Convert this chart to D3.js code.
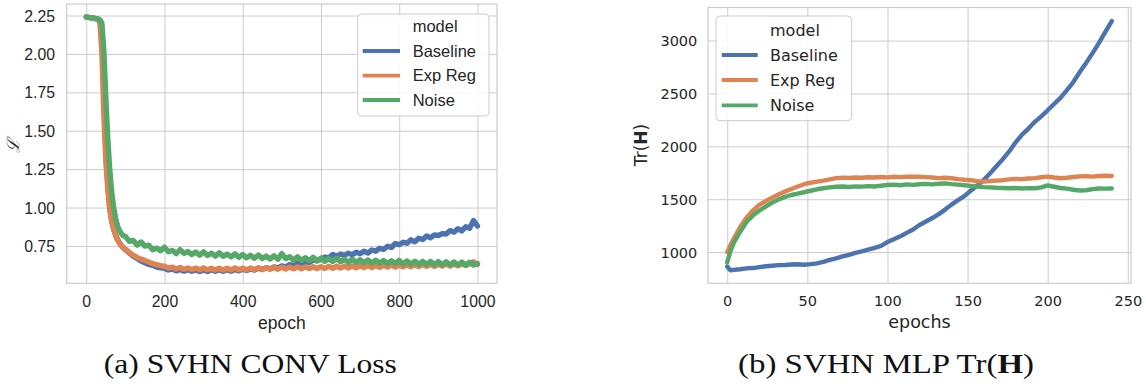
<!DOCTYPE html>
<html><head><meta charset="utf-8">
<script src="https://cdn.jsdelivr.net/npm/d3@7"></script>
<style>body{margin:0;background:#fff}svg{display:block}</style>
</head><body>
<svg id="chart" width="1146" height="386"></svg>
<script>
// ---------- data ----------
const seriesNames = ["Baseline", "Exp Reg", "Noise"];
const seriesColors = ["#4c72b0", "#dd8452", "#55a868"];

// (a) SVHN CONV loss
const epochsA = [0,10,20,30,35,40,45,50,55,60,65,70,75,80,85,90,95,100,
 110,120,130,140,150,160,170,180,190,200,210,220,230,240,250,260,270,280,290,300,
 310,320,330,340,350,360,370,380,390,400,410,420,430,440,450,460,470,480,490,500,
 510,520,530,540,550,560,570,580,590,600,610,620,630,640,650,660,670,680,690,700,
 710,720,730,740,750,760,770,780,790,800,810,820,830,840,850,860,870,880,890,900,
 910,920,930,940,950,960,970,980,990,1000];
const lossBaseline = [2.24,2.236,2.232,2.226,2.215,2.15,1.80,1.40,1.15,1.00,0.915,0.862,0.822,0.792,0.770,0.752,0.738,0.726,
 0.705,0.684,0.668,0.652,0.641,0.630,0.624,0.612,0.608,0.604,0.594,0.600,0.588,0.597,0.586,0.595,0.585,0.594,0.584,0.594,
 0.584,0.595,0.585,0.595,0.585,0.596,0.586,0.597,0.588,0.599,0.590,0.602,0.593,0.605,0.597,0.609,0.601,0.614,0.606,0.620,
 0.614,0.628,0.622,0.637,0.632,0.647,0.643,0.658,0.654,0.664,0.678,0.672,0.695,0.683,0.698,0.688,0.703,0.693,0.709,0.699,
 0.716,0.704,0.724,0.716,0.735,0.728,0.748,0.740,0.766,0.758,0.774,0.768,0.790,0.777,0.800,0.792,0.815,0.804,0.822,0.818,
 0.830,0.828,0.850,0.840,0.862,0.848,0.875,0.866,0.915,0.880];
const lossExpReg = [2.24,2.236,2.232,2.226,2.20,2.00,1.60,1.30,1.12,0.99,0.91,0.858,0.82,0.79,0.768,0.75,0.738,0.728,
 0.708,0.690,0.676,0.664,0.656,0.645,0.636,0.628,0.622,0.618,0.606,0.612,0.600,0.610,0.598,0.607,0.596,0.606,0.595,0.608,
 0.595,0.605,0.594,0.606,0.593,0.605,0.594,0.607,0.595,0.605,0.594,0.607,0.596,0.608,0.597,0.609,0.598,0.610,0.599,0.611,
 0.600,0.612,0.601,0.613,0.602,0.614,0.603,0.615,0.603,0.615,0.604,0.617,0.605,0.618,0.606,0.619,0.607,0.620,0.608,0.621,
 0.609,0.622,0.610,0.623,0.611,0.624,0.612,0.625,0.613,0.626,0.614,0.627,0.615,0.628,0.616,0.629,0.617,0.630,0.618,0.631,
 0.619,0.632,0.620,0.632,0.621,0.633,0.622,0.634,0.648,0.630];
const lossNoise = [2.24,2.236,2.232,2.228,2.222,2.20,2.02,1.72,1.45,1.25,1.10,1.00,0.93,0.88,0.85,0.83,0.815,0.812,
 0.780,0.786,0.756,0.776,0.749,0.755,0.726,0.736,0.719,0.742,0.712,0.721,0.700,0.726,0.702,0.714,0.694,0.710,0.690,0.712,
 0.688,0.703,0.684,0.706,0.683,0.697,0.680,0.699,0.676,0.694,0.673,0.689,0.670,0.691,0.668,0.684,0.665,0.686,0.664,0.700,
 0.668,0.680,0.658,0.679,0.657,0.674,0.654,0.676,0.653,0.671,0.650,0.668,0.649,0.670,0.648,0.663,0.644,0.664,0.642,0.660,
 0.641,0.658,0.639,0.657,0.638,0.655,0.636,0.654,0.635,0.656,0.633,0.652,0.632,0.651,0.631,0.650,0.630,0.649,0.629,0.648,
 0.628,0.647,0.628,0.646,0.627,0.645,0.626,0.644,0.626,0.636];
const lossTicksX = [0,200,400,600,800,1000];
const lossTicksY = [0.75,1.00,1.25,1.50,1.75,2.00,2.25];

// (b) SVHN MLP Tr(H)
const epochsB = [0,2,4,8,12,16,20,24,28,32,36,40,44,48,52,56,60,64,68,72,76,80,84,88,92,96,100,
 104,108,112,116,120,124,128,132,136,140,144,148,152,156,160,164,168,172,176,180,184,188,192,196,200,
 204,208,212,216,220,224,228,232,236,240];
const trBaseline = [864,828,832,838,846,849,858,866,871,877,878,883,885,881,886,893,908,926,941,959,974,993,1007,1023,1040,1059,1095,
 1121,1149,1182,1214,1256,1289,1322,1359,1402,1449,1491,1529,1581,1629,1682,1744,1811,1879,1952,2038,2111,2168,2232,2284,2341,
 2401,2459,2532,2608,2702,2789,2882,2978,3082,3185];
const trExpReg = [1000,1065,1125,1235,1325,1395,1446,1482,1515,1545,1572,1597,1620,1642,1656,1666,1676,1688,1700,1704,1702,1706,1703,1708,1705,1710,1707,
 1712,1709,1714,1712,1713,1709,1706,1700,1703,1698,1690,1684,1680,1670,1668,1672,1676,1680,1688,1692,1690,1696,1700,1708,1714,
 1705,1698,1703,1710,1716,1718,1714,1720,1722,1720];
const trNoise = [902,1010,1085,1190,1285,1345,1393,1430,1468,1498,1522,1540,1553,1566,1580,1594,1604,1612,1618,1620,1616,1622,1619,1624,1620,1628,1634,
 1638,1632,1640,1636,1641,1645,1640,1647,1650,1643,1638,1632,1626,1620,1614,1612,1608,1606,1604,1606,1602,1605,1604,1612,1630,
 1618,1606,1600,1590,1582,1585,1596,1602,1600,1602];
const trTicksX = [0,50,100,150,200,250];
const trTicksY = [1000,1500,2000,2500,3000];

// ---------- drawing ----------
const svg = d3.select("#chart");
const GRID = "#cccccc", INK = "#262626";

function panel(o) {
  const x = d3.scaleLinear().domain(o.xDomain).range([o.left, o.right]);
  const y = d3.scaleLinear().domain(o.yDomain).range([o.bottom, o.top]);
  const g = svg.append("g");

  const ax = g.append("g").attr("transform", `translate(0,${o.bottom})`)
    .call(d3.axisBottom(x).tickValues(o.xTicks).tickSize(-(o.bottom - o.top)).tickSizeOuter(0).tickFormat(o.xFmt));
  const ay = g.append("g").attr("transform", `translate(${o.left},0)`)
    .call(d3.axisLeft(y).tickValues(o.yTicks).tickSize(-(o.right - o.left)).tickSizeOuter(0).tickPadding(o.yPad).tickFormat(o.yFmt));
  [ax, ay].forEach(a => {
    a.select(".domain").remove();
    a.selectAll(".tick line").attr("stroke", GRID).attr("stroke-width", 1);
    a.selectAll(".tick text").attr("fill", INK).style("font-family", o.font).style("font-size", o.tickSize + "px");
  });
  ax.selectAll(".tick text").attr("y", o.xLabelY - o.bottom).attr("dy", "0.35em");
  ay.selectAll(".tick text").attr("dy", "0.35em");

  g.append("rect").attr("x", o.left).attr("y", o.top)
    .attr("width", o.right - o.left).attr("height", o.bottom - o.top)
    .attr("fill", "none").attr("stroke", GRID).attr("stroke-width", 1.2);

  const line = d3.line().x((d, i) => x(o.xs[i])).y(d => y(d));
  o.series.forEach((s, k) => {
    g.append("path").datum(s).attr("d", line)
      .attr("fill", "none").attr("stroke", seriesColors[k])
      .attr("stroke-width", o.lw).attr("stroke-linejoin", "round").attr("stroke-linecap", "round");
  });

  g.append("text").attr("x", (o.left + o.right) / 2).attr("y", o.xTitleY).attr("dy", "0.35em")
    .attr("text-anchor", "middle").attr("fill", INK)
    .style("font-family", o.font).style("font-size", o.labelSize + "px").text(o.xTitle);

  const L = o.legend;
  g.append("rect").attr("x", L.x0).attr("y", L.y0).attr("width", L.x1 - L.x0).attr("height", L.y1 - L.y0)
    .attr("rx", 4).attr("fill", "#ffffff").attr("fill-opacity", 0.85).attr("stroke", GRID).attr("stroke-width", 1);
  g.append("text").attr("x", L.tx).attr("y", L.titleY).attr("dy", "0.35em").attr("fill", INK)
    .style("font-family", o.font).style("font-size", L.size + "px").text("model");
  seriesNames.forEach((n, k) => {
    g.append("line").attr("x1", L.lx0).attr("x2", L.lx1).attr("y1", L.rows[k]).attr("y2", L.rows[k])
      .attr("stroke", seriesColors[k]).attr("stroke-width", L.lw);
    g.append("text").attr("x", L.tx).attr("y", L.rows[k]).attr("dy", "0.35em").attr("fill", INK)
      .style("font-family", o.font).style("font-size", L.size + "px").text(n);
  });
  return g;
}

panel({
  left: 66.7, right: 497, top: 4, bottom: 283.3,
  xDomain: [-50, 1050], yDomain: [0.507, 2.325],
  xTicks: lossTicksX, yTicks: lossTicksY,
  xFmt: d3.format("d"), yFmt: d3.format(".2f"),
  xs: epochsA, series: [lossBaseline, lossExpReg, lossNoise], lw: 5.4,
  font: "'Liberation Sans', Arial, sans-serif", tickSize: 15.8, labelSize: 17.5, yPad: 11.7,
  xLabelY: 301.7, xTitle: "epoch", xTitleY: 322.7,
  legend: {x0: 357.7, x1: 489, y0: 14, y1: 116, tx: 412.7, titleY: 26.7, rows: [51, 75.7, 100],
           lx0: 362.7, lx1: 400, lw: 3.8, size: 16.5}
});

panel({
  left: 708, right: 1131, top: 7.5, bottom: 283.3,
  xDomain: [-12, 252], yDomain: [705, 3313],
  xTicks: trTicksX, yTicks: trTicksY,
  xFmt: d3.format("d"), yFmt: d3.format("d"),
  xs: epochsB, series: [trBaseline, trExpReg, trNoise], lw: 4.4,
  font: "'DejaVu Sans', sans-serif", tickSize: 14.5, labelSize: 17.5, yPad: 10.7,
  xLabelY: 300.7, xTitle: "epochs", xTitleY: 321.7,
  legend: {x0: 716, x1: 851.7, y0: 16, y1: 120.7, tx: 770, titleY: 30.7, rows: [55, 80, 105.3],
           lx0: 721.7, lx1: 757.7, lw: 3.8, size: 16}
});

svg.append("text").attr("transform", "translate(13,146) rotate(-90)").attr("text-anchor", "middle").attr("dy", "0.35em")
  .attr("fill", INK).style("font-family", "'DejaVu Serif', serif").style("font-style", "italic").style("font-size", "17px").text("ℒ");
const trLab = svg.append("text").attr("transform", "translate(641,145) rotate(-90)").attr("text-anchor", "middle").attr("dy", "0.35em")
  .attr("fill", INK).style("font-family", "'DejaVu Sans', sans-serif").style("font-size", "17px");
trLab.append("tspan").text("Tr(");
trLab.append("tspan").attr("font-weight", "bold").text("H");
trLab.append("tspan").text(")");

svg.append("text").attr("x", 250.3).attr("y", 373).attr("text-anchor", "middle")
  .attr("textLength", 293).attr("lengthAdjust", "spacingAndGlyphs")
  .attr("fill", "#111").style("font-family", "'Liberation Serif', 'Times New Roman', serif").style("font-size", "28px")
  .text("(a) SVHN CONV Loss");
const capB = svg.append("text").attr("x", 886).attr("y", 373).attr("text-anchor", "middle")
  .attr("textLength", 296).attr("lengthAdjust", "spacingAndGlyphs")
  .attr("fill", "#111").style("font-family", "'Liberation Serif', 'Times New Roman', serif").style("font-size", "28px");
capB.append("tspan").text("(b) SVHN MLP Tr(");
capB.append("tspan").attr("font-weight", "bold").text("H");
capB.append("tspan").text(")");
</script>
</body></html>
